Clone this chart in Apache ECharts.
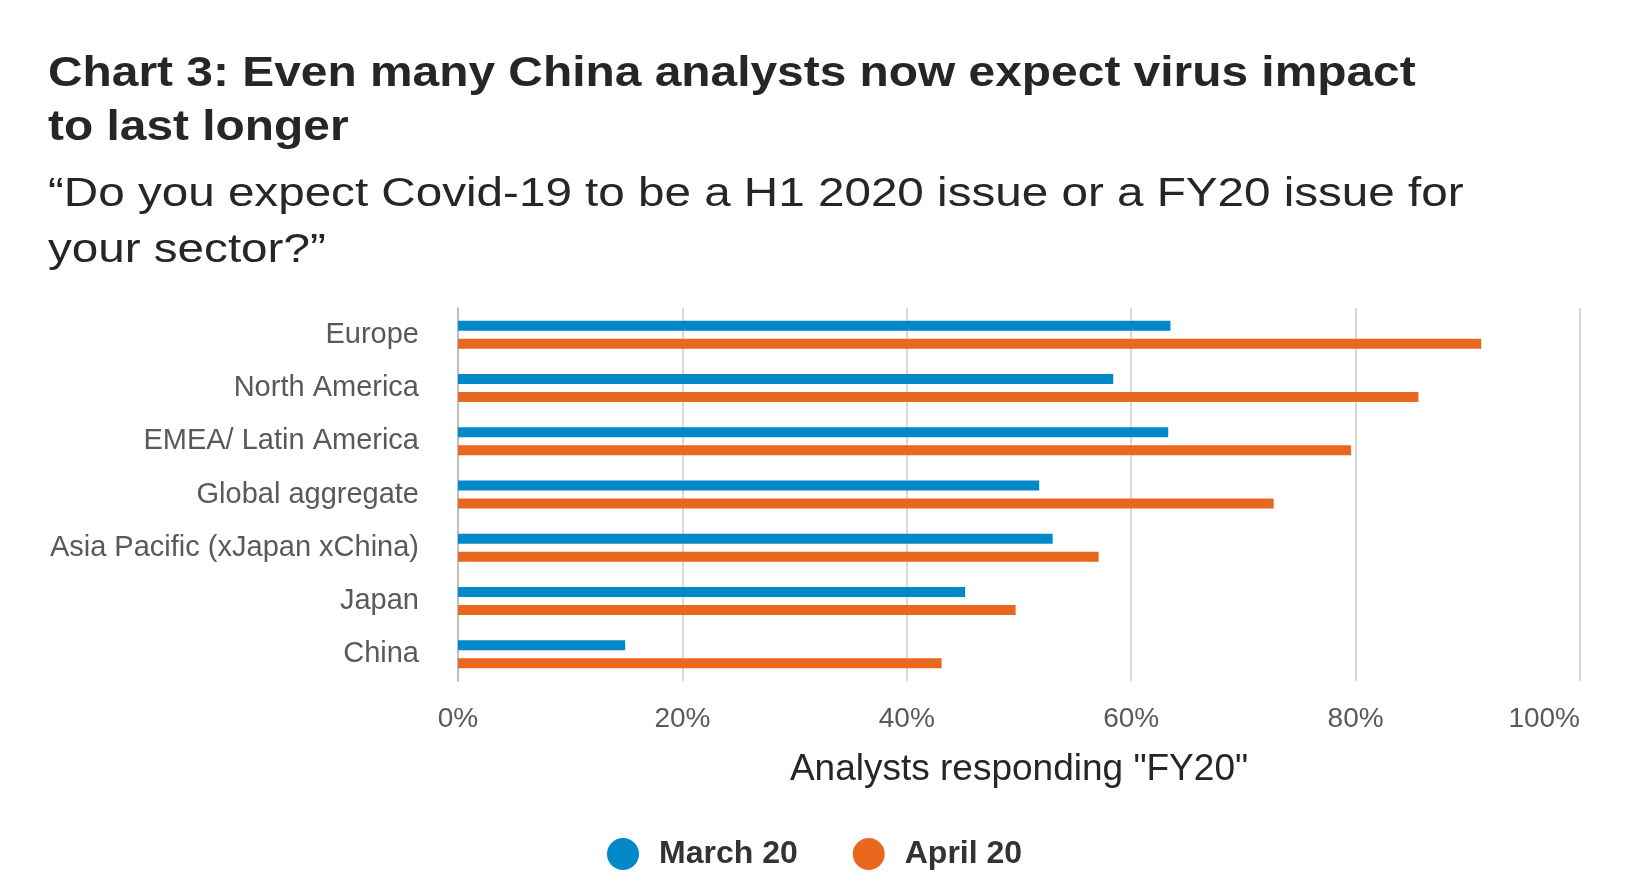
<!DOCTYPE html>
<html>
<head>
<meta charset="utf-8">
<script src="https://cdn.jsdelivr.net/npm/echarts@6/dist/echarts.min.js"></script>
<style>
  html, body { margin: 0; padding: 0; background: #fff; }
  #chart { width: 1647px; height: 895px; }
</style>
</head>
<body>
<div id="chart"></div>
<script>
const categories = ['Europe', 'North America', 'EMEA/ Latin America', 'Global aggregate',
    'Asia Pacific (xJapan xChina)', 'Japan', 'China'];
const march20 = [63.5, 58.4, 63.3, 51.8, 53.0, 45.2, 14.9];
const april20 = [91.2, 85.6, 79.6, 72.7, 57.1, 49.7, 43.1];
const seriesNames = ['March 20', 'April 20'];
const titleLines = ['Chart 3: Even many China analysts now expect virus impact', 'to last longer'];
const subtitleLines = ['\u201cDo you expect Covid-19 to be a H1 2020 issue or a FY20 issue for', 'your sector?\u201d'];

window.onload = function () {
    const chart = echarts.init(document.getElementById('chart'));
    const font = '"Liberation Sans", Arial, sans-serif';

    // heading text in the reference is drawn wide, so stretch it horizontally
    function headingLine(text, y, size, stretch, bold) {
        return {
            type: 'text',
            x: 48,
            y: y,
            scaleX: stretch,
            silent: true,
            style: {
                text: text,
                x: 0,
                y: 0,
                align: 'left',
                verticalAlign: 'middle',
                font: (bold ? 'bold ' : '') + size + 'px ' + font,
                fill: '#262626'
            }
        };
    }

    chart.setOption({
        backgroundColor: '#fff',
        textStyle: { fontFamily: font },
        graphic: [
            headingLine(titleLines[0], 74, 42, 1.14, true),
            headingLine(titleLines[1], 128, 42, 1.14, true),
            headingLine(subtitleLines[0], 195, 40, 1.19, false),
            headingLine(subtitleLines[1], 251, 40, 1.19, false)
        ],
        legend: {
            data: seriesNames,
            left: 602,
            top: 833,
            icon: 'circle',
            symbolKeepAspect: true,
            itemWidth: 62,
            itemHeight: 32,
            itemGap: 55,
            textStyle: { fontSize: 32, fontWeight: 'bold', color: '#333', fontFamily: font }
        },
        grid: { left: 458, right: 67, top: 308, height: 373 },
        xAxis: {
            type: 'value',
            min: 0,
            max: 100,
            interval: 20,
            name: 'Analysts responding "FY20"',
            nameLocation: 'middle',
            nameGap: 70,
            nameTextStyle: { fontSize: 37, color: '#262626', fontFamily: font },
            axisLine: { show: false },
            axisTick: { show: false },
            axisLabel: {
                formatter: '{value}%',
                fontSize: 28,
                color: '#595959',
                margin: 24,
                alignMaxLabel: 'right',
                fontFamily: font
            },
            splitLine: { show: true, lineStyle: { color: '#d9d9d9', width: 2 } }
        },
        yAxis: {
            type: 'category',
            data: categories,
            inverse: true,
            axisLine: { show: true, lineStyle: { color: '#bfbfbf', width: 2 } },
            axisTick: { show: false },
            axisLabel: { fontSize: 29, color: '#595959', margin: 39, fontFamily: font }
        },
        series: [
            {
                name: seriesNames[0],
                type: 'bar',
                data: march20,
                barWidth: 10,
                barGap: '80%',
                itemStyle: { color: '#0088c9' }
            },
            {
                name: seriesNames[1],
                type: 'bar',
                data: april20,
                barWidth: 10,
                barGap: '80%',
                itemStyle: { color: '#e8691e' }
            }
        ]
    });
};
</script>
</body>
</html>
